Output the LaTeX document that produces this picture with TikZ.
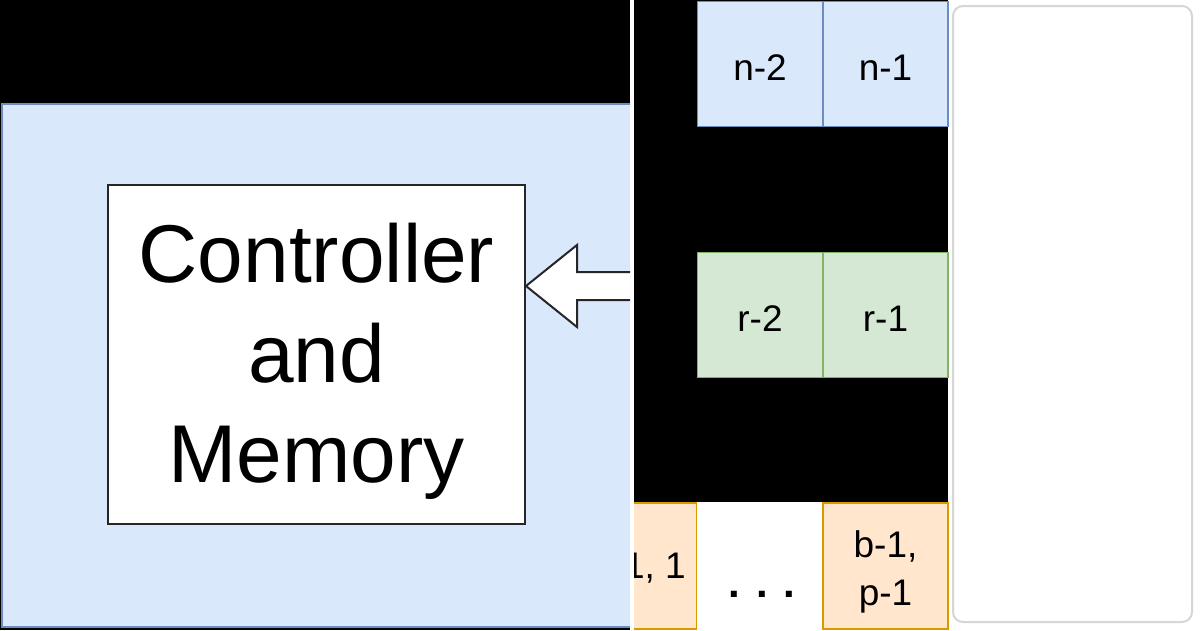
\documentclass[tikz,border=0pt]{standalone}
\usepackage{fontspec}
\setmainfont{Liberation Sans}
\usetikzlibrary{calc}
\definecolor{blueF}{HTML}{DAE8FC}
\definecolor{blueD}{HTML}{6C8EBF}
\definecolor{greenF}{HTML}{D5E8D4}
\definecolor{greenD}{HTML}{82B366}
\definecolor{orangeF}{HTML}{FFE6CC}
\definecolor{orangeD}{HTML}{D79B00}
\definecolor{frameG}{HTML}{D6D6D6}
\begin{document}
\begin{tikzpicture}[x=1pt,y=-1pt,
  cellbase/.style={draw, line width=1.6pt, inner sep=0pt, minimum width=125pt,
    minimum height=125pt, align=center, font=\fontsize{37}{48}\selectfont},
  onecell/.style={cellbase, text height=33pt, text depth=0pt},
  bluecell/.style={onecell, fill=blueF, draw=blueD},
  greencell/.style={onecell, fill=greenF, draw=greenD},
  orangecell/.style={cellbase, fill=orangeF, draw=orangeD},
  ctrlbox/.style={draw=black!85, fill=white, line width=2pt, inner sep=0pt,
    minimum width=417pt, minimum height=339pt, align=center,
    font=\fontsize{82}{100}\selectfont},
  blockarrow/.style={draw=black!85, fill=white, line width=2pt, line join=miter},
  panel/.style={fill=blueF, draw=blueD, line width=2pt},
  outerframe/.style={draw=frameG, fill=white, line width=2pt, rounded corners=10pt}
]
\useasboundingbox (0,0) rectangle (1200,630);
\fill[white] (0,0) rectangle (1200,630);

% left panel
\begin{scope}
  \clip (0,0) rectangle (630,630);
  \fill[black] (0,0) rectangle (630,630);
  \draw[panel] (2,104) rectangle (700,627);
  \node[ctrlbox] (ctrl) at (316.5,354) {\rule{0pt}{74pt}Controller\\and\\Memory};
  \draw[blockarrow] ($(ctrl.east)+(0,-68)$) coordinate (tip)
     -- ++(51,-41) -- ++(0,27) -- ++(80,0) -- ++(0,28) -- ++(-80,0)
     -- ++(0,27) -- cycle;
\end{scope}

% right panel
\begin{scope}
  \clip (634,0) rectangle (950,630);
  \fill[black] (634,0) rectangle (948,502);
  \node[bluecell] (n2) at (760,64) {n-2};
  \node[bluecell] (n1) at (885.5,64) {n-1};
  \node[greencell] (r2) at (760,315) {r-2};
  \node[greencell] (r1) at (885.5,315) {r-1};
  \node[orangecell, minimum height=126pt] (o0) at (634,566) {};
  \node[anchor=base east, inner sep=0pt, font=\fontsize{37}{48}\selectfont] (o0t) at (686,578) {1, 1};
  \node[anchor=base, inner sep=0pt, font=\fontsize{42}{50}\selectfont\bfseries] (dots) at (762,597) {. . .};
  \node[orangecell, minimum height=126pt] (ob) at (885.5,566) {\rule{0pt}{38pt}b-1,\\p-1};
\end{scope}

% right frame
\draw[outerframe] (953,6) rectangle (1192,622);
\end{tikzpicture}
\end{document}
